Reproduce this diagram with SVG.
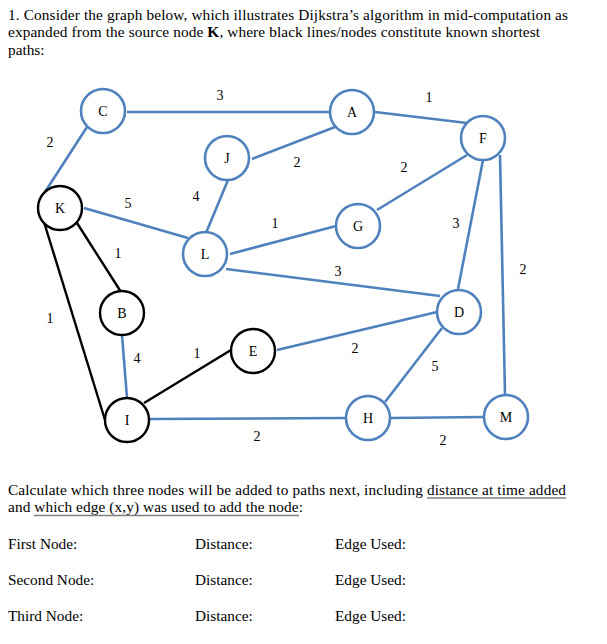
<svg xmlns="http://www.w3.org/2000/svg" width="607" height="644" viewBox="0 0 607 644">
<style>
.t{font-family:"Liberation Serif","Times New Roman",serif;font-size:15.3px;fill:#000}
.e{stroke:#4F81BD;stroke-width:2.6;fill:none}
.k{stroke:#000;stroke-width:2.4;fill:none}
.nb circle{fill:#fff;stroke:#4F81BD;stroke-width:2.6}
.nk circle{fill:#fff;stroke:#000;stroke-width:2.4}
.lb{font-family:"Liberation Serif","Times New Roman",serif;font-size:14px;fill:#000;text-anchor:middle}
.w{font-family:"Liberation Serif","Times New Roman",serif;font-size:14px;fill:#000;text-anchor:middle}
.ul{stroke:#808080;stroke-width:1.5}
</style>
<rect width="607" height="644" fill="#fff"/>
<text class="t" x="8" y="19.5" textLength="560">1. Consider the graph below, which illustrates Dijkstra’s algorithm in mid-computation as</text>
<text class="t" x="8" y="37" textLength="532">expanded from the source node <tspan font-weight="bold">K</tspan>, where black lines/nodes constitute known shortest</text>
<text class="t" x="8" y="55">paths:</text>
<g id="connectors">
<line class="e" x1="127" y1="112" x2="330" y2="112"/>
<line class="e" x1="45" y1="192" x2="87" y2="127"/>
<line class="e" x1="375" y1="112" x2="467" y2="123"/>
<line class="e" x1="252" y1="159" x2="335" y2="127"/>
<line class="e" x1="228" y1="180" x2="206" y2="233"/>
<line class="e" x1="84" y1="208" x2="188" y2="238"/>
<line class="e" x1="230" y1="254" x2="336" y2="226"/>
<line class="e" x1="226" y1="269" x2="440" y2="296"/>
<line class="e" x1="467" y1="155" x2="377" y2="210"/>
<line class="e" x1="483" y1="160" x2="458" y2="289"/>
<line class="e" x1="500" y1="155" x2="505" y2="395"/>
<line class="e" x1="122" y1="335" x2="127" y2="398"/>
<line class="e" x1="150" y1="419" x2="346" y2="418"/>
<line class="e" x1="277" y1="350" x2="437" y2="312"/>
<line class="e" x1="442" y1="328" x2="385" y2="402"/>
<line class="e" x1="391" y1="418" x2="484" y2="417"/>
<line class="k" x1="44" y1="222" x2="105" y2="420"/>
<line class="k" x1="77" y1="223" x2="121" y2="292"/>
<line class="k" x1="144" y1="403" x2="231" y2="350"/>
</g>
<g id="edge-labels">
<text class="w" x="220" y="100">3</text>
<text class="w" x="429" y="102">1</text>
<text class="w" x="50" y="147">2</text>
<text class="w" x="297" y="167">2</text>
<text class="w" x="404" y="172">2</text>
<text class="w" x="128" y="208">5</text>
<text class="w" x="196" y="201">4</text>
<text class="w" x="118" y="258">1</text>
<text class="w" x="275" y="228">1</text>
<text class="w" x="456" y="228">3</text>
<text class="w" x="338" y="276">3</text>
<text class="w" x="523" y="274">2</text>
<text class="w" x="50" y="323">1</text>
<text class="w" x="137" y="363">4</text>
<text class="w" x="197" y="358">1</text>
<text class="w" x="355" y="353">2</text>
<text class="w" x="435" y="371">5</text>
<text class="w" x="257" y="441">2</text>
<text class="w" x="443" y="445">2</text>
</g>
<g id="node-C" class="nb"><circle cx="103" cy="111" r="22"/><text class="lb" x="103" y="116">C</text></g>
<g id="node-A" class="nb"><circle cx="352" cy="112" r="22"/><text class="lb" x="352" y="117">A</text></g>
<g id="node-F" class="nb"><circle cx="483" cy="138" r="22"/><text class="lb" x="483" y="143">F</text></g>
<g id="node-J" class="nb"><circle cx="227" cy="158" r="22"/><text class="lb" x="227" y="163">J</text></g>
<g id="node-K" class="nk"><circle cx="60" cy="208" r="22"/><text class="lb" x="60" y="213">K</text></g>
<g id="node-G" class="nb"><circle cx="358" cy="226" r="22"/><text class="lb" x="358" y="231">G</text></g>
<g id="node-L" class="nb"><circle cx="205" cy="254" r="22"/><text class="lb" x="205" y="259">L</text></g>
<g id="node-D" class="nb"><circle cx="459" cy="312" r="22"/><text class="lb" x="459" y="317">D</text></g>
<g id="node-B" class="nk"><circle cx="122" cy="313" r="22"/><text class="lb" x="122" y="318">B</text></g>
<g id="node-E" class="nk"><circle cx="253" cy="351" r="22"/><text class="lb" x="253" y="356">E</text></g>
<g id="node-I" class="nk"><circle cx="127" cy="420" r="22"/><text class="lb" x="127" y="425">I</text></g>
<g id="node-H" class="nb"><circle cx="368" cy="418" r="22"/><text class="lb" x="368" y="423">H</text></g>
<g id="node-M" class="nb"><circle cx="506" cy="417" r="22"/><text class="lb" x="506" y="422">M</text></g>
<text class="t" x="8" y="495" textLength="558">Calculate which three nodes will be added to paths next, including distance at time added</text>
<line class="ul" x1="427" y1="498" x2="566" y2="498"/>
<text class="t" x="8" y="512" textLength="295">and which edge (x,y) was used to add the node:</text>
<line class="ul" x1="34" y1="515.5" x2="299" y2="515.5"/>
<text class="t" x="8" y="549">First Node:</text>
<text class="t" x="195" y="549">Distance:</text>
<text class="t" x="335" y="549">Edge Used:</text>
<text class="t" x="8" y="585">Second Node:</text>
<text class="t" x="195" y="585">Distance:</text>
<text class="t" x="335" y="585">Edge Used:</text>
<text class="t" x="8" y="621">Third Node:</text>
<text class="t" x="195" y="621">Distance:</text>
<text class="t" x="335" y="621">Edge Used:</text>
</svg>
